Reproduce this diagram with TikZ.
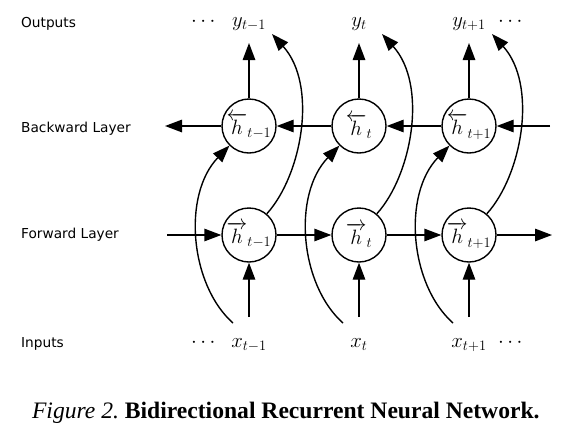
\documentclass[tikz,border=0pt]{standalone}
\usepackage{fontspec}
\newfontfamily\labelfont{DejaVu Sans}
\newfontfamily\capfont{Liberation Serif}
\usepackage{amsmath}
\usetikzlibrary{arrows.meta}

\tikzset{
	unit/.style={draw, circle, line width=1.4pt, minimum size=54pt, inner sep=0pt, font=\fontsize{20}{24}\selectfont},
	lbl/.style={anchor=base west, inner sep=0pt, font=\labelfont\fontsize{13.7}{16}\selectfont},
	var/.style={anchor=base, inner sep=0pt, font=\fontsize{20}{24}\selectfont},
	link/.style={line width=1.4pt, -{Triangle[length=17pt,width=12.5pt]}}
}

\begin{document}
\begin{tikzpicture}[x=1pt, y=-1pt]
			\useasboundingbox (0,0) rectangle (569,429);

			% row labels
			\draw (21,27) node[lbl] (lout) {Outputs}
			(21,132) node[lbl] (lback) {Backward Layer}
			(21,238.5) node[lbl] (lfwd) {Forward Layer}
			(21,347.5) node[lbl] (lin) {Inputs};

			% hidden units
			\draw (249,126) node[unit] (hb1) {$\overleftarrow{h}_{t-1}$}
			(359,126) node[unit] (hb2) {$\overleftarrow{h}_{t}$}
			(469,126) node[unit] (hb3) {$\overleftarrow{h}_{t+1}$}
			(249,235) node[unit] (hf1) {$\overrightarrow{h}_{t-1}$}
			(359,235) node[unit] (hf2) {$\overrightarrow{h}_{t}$}
			(469,235) node[unit] (hf3) {$\overrightarrow{h}_{t+1}$};

			% outputs and inputs
			\draw (205,26.5) node[var] (ydl) {$\cdots$}
			(249,26.5) node[var] (y1) {$y_{t-1}$}
			(359,26.5) node[var] (y2) {$y_{t}$}
			(469,26.5) node[var] (y3) {$y_{t+1}$}
			(512,26.5) node[var] (ydr) {$\cdots$}
			(205,347) node[var] (xdl) {$\cdots$}
			(249,347) node[var] (x1) {$x_{t-1}$}
			(359,347) node[var] (x2) {$x_{t}$}
			(469,347) node[var] (x3) {$x_{t+1}$}
			(512,347) node[var] (xdr) {$\cdots$};

			% free ends
			\coordinate (bin) at (550,126);
			\coordinate (bout) at (165,126);
			\coordinate (fin) at (167,235);
			\coordinate (fout) at (552,235);
			\coordinate (o1) at (249,43);
			\coordinate (o2) at (359,43);
			\coordinate (o3) at (469,43);
			\coordinate (i1) at (249,317);
			\coordinate (i2) at (359,317);
			\coordinate (i3) at (469,317);
			\coordinate (a1) at (233,323);
			\coordinate (a2) at (343,323);
			\coordinate (a3) at (453,323);
			\coordinate (c1) at (272,34);
			\coordinate (c2) at (382,34);
			\coordinate (c3) at (492,34);

			% backward layer
			\draw[link] (bin) -- (hb3);
			\draw[link] (hb3) -- (hb2);
			\draw[link] (hb2) -- (hb1);
			\draw[link] (hb1) -- (bout);

			% forward layer
			\draw[link] (fin) -- (hf1);
			\draw[link] (hf1) -- (hf2);
			\draw[link] (hf2) -- (hf3);
			\draw[link] (hf3) -- (fout);

			% to outputs, from inputs
			\draw[link] (hb1) -- (o1);
			\draw[link] (hb2) -- (o2);
			\draw[link] (hb3) -- (o3);
			\draw[link] (i1) -- (hf1);
			\draw[link] (i2) -- (hf2);
			\draw[link] (i3) -- (hf3);

			% inputs into backward layer
			\draw[link] (a1) .. controls (190,285) and (182,195) .. (hb1.225);
			\draw[link] (a2) .. controls (300,285) and (292,195) .. (hb2.225);
			\draw[link] (a3) .. controls (410,285) and (402,195) .. (hb3.225);

			% forward layer into outputs
			\draw[link] (hf1.50) .. controls (302,175) and (318,85) .. (c1);
			\draw[link] (hf2.50) .. controls (412,175) and (428,85) .. (c2);
			\draw[link] (hf3.50) .. controls (522,175) and (538,85) .. (c3);

			% caption
			\draw (285.8,418.3) node[anchor=base, inner sep=0pt, font=\capfont\fontsize{23.6}{28}\selectfont] (cap)
			{\itshape Figure 2.\ \upshape\bfseries Bidirectional Recurrent Neural Network.};
		\end{tikzpicture}
\end{document}
